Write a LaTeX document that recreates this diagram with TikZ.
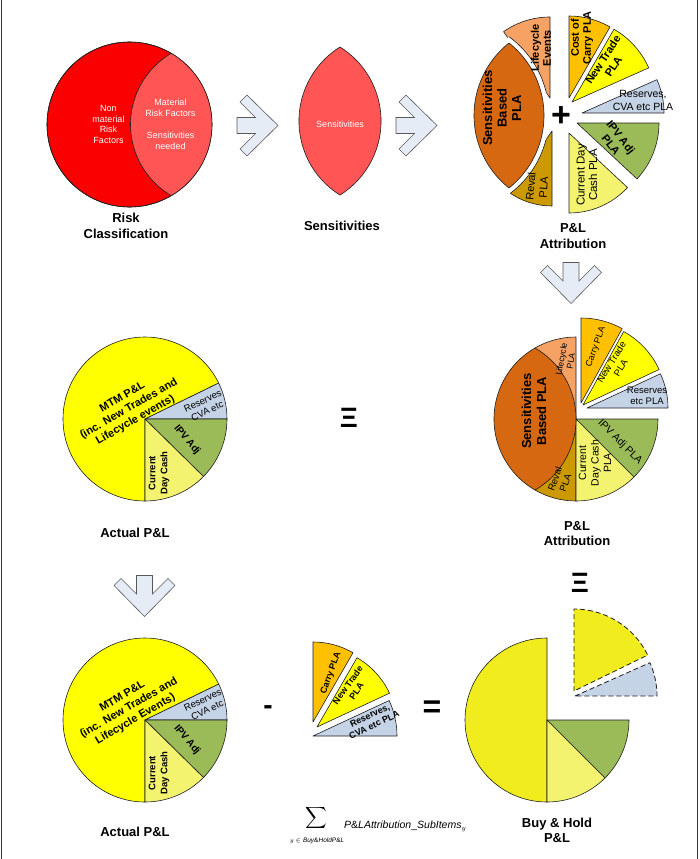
\documentclass[tikz,border=0pt]{standalone}
\usepackage{fontspec}
\setmainfont{Liberation Sans}
\newcommand\fsz[2]{\fontsize{#1}{#2}\selectfont}
\definecolor{rRed}{RGB}{250,0,0}
\definecolor{rLens}{RGB}{255,85,85}
\definecolor{dOrange}{RGB}{214,104,18}
\definecolor{lOrange}{RGB}{245,162,100}
\definecolor{cGold}{RGB}{255,192,0}
\definecolor{cYel}{RGB}{255,255,0}
\definecolor{cRes}{RGB}{197,211,230}
\definecolor{cIPV}{RGB}{155,187,89}
\definecolor{cCDC}{RGB}{243,243,112}
\definecolor{cReval}{RGB}{204,153,0}
\definecolor{cBH}{RGB}{240,236,30}
\definecolor{cArrow}{RGB}{230,236,246}
\definecolor{cLine}{RGB}{30,30,30}
\begin{document}
\begin{tikzpicture}[x=1pt,y=-1pt,
  piece/.style={draw=cLine,line width=0.6pt,line join=round},
  dpiece/.style={draw=cLine,line width=0.8pt,dash pattern=on 5pt off 3pt,line join=round},
  pt/.style={align=center,inner sep=0pt,text=black},
  lbl/.style={align=center,inner sep=0pt,text=black,font=\bfseries\fsz{13}{16}},
  wt/.style={align=center,inner sep=0pt,text=white},
  arrowsty/.style={fill=cArrow,draw=black!65,line width=0.6pt,line join=miter},
  chevR/.pic={\filldraw[arrowsty] (-10.5,-30.5) -- (20.5,0) -- (-10.5,30.5) -- (-17.5,23.5) -- (-2,8) -- (-20.5,8) -- (-20.5,-8) -- (-2,-8) -- (-17.5,-23.5) -- cycle;},
  chevD/.pic={\filldraw[arrowsty] (30.5,-10.5) -- (0,20.5) -- (-30.5,-10.5) -- (-23.5,-17.5) -- (-8,-2) -- (-8,-20.5) -- (8,-20.5) -- (8,-2) -- (23.5,-17.5) -- cycle;}
]
\useasboundingbox (0,0) rectangle (699,859);
\draw[black!80,line width=0.8pt] (1,0) -- (1,859);
\draw[black!80,line width=0.8pt] (697.5,0) -- (697.5,859);

% ---------- Risk classification ----------
\filldraw[fill=rRed,piece] (129.5,124.5) circle (82.5);
\begin{scope}
  \clip (129.5,124.5) circle (82.5);
  \filldraw[fill=rLens,piece] (213,124.5) circle (82.5);
\end{scope}
\draw[piece] (129.5,124.5) circle (82.5);
\node[wt,font=\fsz{9}{10.8}] (nonmat) at (108.5,124.5) {Non\\material\\Risk\\Factors};
\node[wt,font=\fsz{9}{11}] (mat) at (170.5,124.7) {Material\\Risk Factors\\[11pt]Sensitivities\\needed};
\node[lbl] (riskc) at (126,226) {Risk\\Classification};

% ---------- arrows ----------
\pic at (257.5,125.5) {chevR};
\pic at (416.5,125.5) {chevR};
\pic at (571,283) {chevD};
\pic at (144.5,596) {chevD};

% ---------- Sensitivities ----------
\filldraw[fill=rLens,piece] (340,47) arc[start angle=-58,end angle=58,radius=87.3] arc[start angle=122,end angle=238,radius=87.3] -- cycle;
\node[wt,font=\fsz{9}{11}] (senstxt) at (340,124) {Sensitivities};
\node[lbl] (senslbl) at (342,226) {Sensitivities};

% ---------- P&L attribution (top, exploded) ----------
\filldraw[fill=lOrange,piece] (550,98) -- ++(-125:81) arc[start angle=-125,end angle=-90,radius=81] -- cycle;
\filldraw[fill=cReval,piece] (552,131) -- ++(90:75) arc[start angle=90,end angle=125,radius=75] -- cycle;
\begin{scope}
  \clip (451.41,115.5) circle (97.6);
  \fill[white] (566.59,115.5) circle (97.6);
\end{scope}
\begin{scope}
  \clip (550,98) -- ++(-125:81) arc[start angle=-125,end angle=-90,radius=81] -- cycle;
  \clip (566.59,115.5) circle (97.6);
  \draw[piece] (451.41,115.5) circle (97.6);
\end{scope}
\begin{scope}
  \clip (552,131) -- ++(90:75) arc[start angle=90,end angle=125,radius=75] -- cycle;
  \clip (566.59,115.5) circle (97.6);
  \draw[piece] (451.41,115.5) circle (97.6);
\end{scope}
\filldraw[fill=dOrange,piece] (509,43) arc[start angle=-51.54,end angle=51.54,radius=92.59] arc[start angle=128.46,end angle=231.54,radius=92.59] -- cycle;
\filldraw[fill=cGold,piece] (569,98) -- ++(-90:82) arc[start angle=-90,end angle=-60,radius=82] -- cycle;
\filldraw[fill=cYel,piece] (572,102) -- ++(-60:84) arc[start angle=-60,end angle=-24,radius=84] -- cycle;
\filldraw[fill=cRes,piece] (582,113) -- ++(-24:82) arc[start angle=-24,end angle=0,radius=82] -- cycle;
\filldraw[fill=cIPV,piece] (577,123) -- ++(0:82) arc[start angle=0,end angle=43,radius=82] -- cycle;
\filldraw[fill=cCDC,piece] (569,133) -- ++(43:80) arc[start angle=43,end angle=90,radius=80] -- cycle;
\node[pt,font=\bfseries\fsz{13}{14.5},rotate=90] (sbp) at (502,108) {Sensitivities\\Based\\PLA};
\node[pt,font=\bfseries\fsz{11}{12},rotate=90] (lce) at (541,48) {Lifecycle\\Events};
\node[pt,font=\bfseries\fsz{11}{12},rotate=90] (coc) at (582,38) {Cost of\\Carry PLA};
\node[pt,font=\bfseries\fsz{11}{12.5},rotate=57] (ntp) at (608,63) {New Trade\\PLA};
\node[pt,font=\fsz{10.5}{13}] (rcp) at (643,100) {Reserves,\\CVA etc PLA};
\node[pt,font=\bfseries\fsz{11}{12.5},rotate=-52] (ipvp) at (616,141) {IPV Adj\\PLA};
\node[pt,font=\fsz{11.5}{12.5},rotate=90] (cdcp) at (587,175) {Current Day\\Cash PLA};
\node[pt,font=\fsz{11}{13},rotate=85] (rvp) at (537,187) {Reval\\PLA};
\node[pt,font=\bfseries\fsz{34}{34}] (plus) at (561,117) {+};
\node[lbl] (pla1) at (573,236.5) {P\&L\\Attribution};

% ---------- P&L attribution (middle) ----------
\filldraw[fill=lOrange,piece] (576,419) -- ++(-120:82) arc[start angle=-120,end angle=-90,radius=82] -- cycle;
\filldraw[fill=cReval,piece] (576,419) -- ++(90:82) arc[start angle=90,end angle=120,radius=82] -- cycle;
\filldraw[fill=cIPV,piece] (576,419) -- ++(0:82) arc[start angle=0,end angle=45,radius=82] -- cycle;
\filldraw[fill=cCDC,piece] (576,419) -- ++(45:82) arc[start angle=45,end angle=90,radius=82] -- cycle;
\filldraw[fill=dOrange,piece] (535,347.99) arc[start angle=240,end angle=120,radius=82] arc[start angle=60,end angle=-60,radius=82] -- cycle;
\filldraw[fill=cGold,piece] (581,403) -- ++(-90:85) arc[start angle=-90,end angle=-61,radius=85] -- cycle;
\filldraw[fill=cYel,piece] (583,405) -- ++(-61:84) arc[start angle=-61,end angle=-25,radius=84] -- cycle;
\filldraw[fill=cRes,piece] (587,408) -- ++(-25:81) arc[start angle=-25,end angle=0,radius=81] -- cycle;
\node[pt,font=\bfseries\fsz{13}{15},rotate=90] (sbp2) at (534,411) {Sensitivities\\Based PLA};
\node[pt,font=\fsz{8.5}{9.5},rotate=80] (lcp2) at (566,360) {Lifecycle\\PLA};
\node[pt,font=\fsz{9}{10},rotate=70] (cp2) at (596,347) {Carry PLA};
\node[pt,font=\fsz{9.5}{11},rotate=58] (ntp2) at (616,365) {New Trade\\PLA};
\node[pt,font=\fsz{9.5}{11.5}] (rp2) at (647,396) {Reserves\\etc PLA};
\node[pt,font=\fsz{10.5}{12},rotate=-45] (ipv2) at (620,442) {IPV Adj PLA};
\node[pt,font=\fsz{10.5}{12.5},rotate=90] (cdc2) at (595,463) {Current\\Day Cash\\PLA};
\node[pt,font=\fsz{9.5}{11},rotate=70] (rv2) at (560,481) {Reval\\PLA};
\node[lbl,font=\bfseries\fsz{13}{15}] (pla2) at (577,534) {P\&L\\Attribution};

\node[pt,font=\bfseries\fsz{28}{28}] (xi1) at (349,418) {Ξ};
\node[pt,font=\bfseries\fsz{28}{28}] (xi2) at (580,583) {Ξ};

% ---------- Actual P&L (top) ----------
\begin{scope}[shift={(145,419)}]
  \filldraw[fill=cYel,piece] (0,0) -- (90:82) arc[start angle=90,end angle=334,radius=82] -- cycle;
  \filldraw[fill=cRes,piece] (0,0) -- (-26:82) arc[start angle=-26,end angle=0,radius=82] -- cycle;
  \filldraw[fill=cIPV,piece] (0,0) -- (0:82) arc[start angle=0,end angle=44.5,radius=82] -- cycle;
  \filldraw[fill=cCDC,piece] (0,0) -- (44.5:82) arc[start angle=44.5,end angle=90,radius=82] -- cycle;
  \node[pt,font=\bfseries\fsz{11}{13},rotate=30] (mtm1) at (-16,-10) {MTM P\&L\\(inc. New Trades and\\Lifecycle events)};
  \node[pt,font=\fsz{9.5}{11},rotate=25] (res1) at (60,-13) {Reserves\\CVA etc};
  \node[pt,font=\bfseries\fsz{10}{12},rotate=-50] (ipv1) at (42,21) {IPV Adj};
  \node[pt,font=\bfseries\fsz{9.5}{12},rotate=90] (cdc1) at (14,54) {Current\\Day Cash};
\end{scope}
\node[lbl] (act1) at (135,533) {Actual P\&L};

% ---------- Actual P&L (bottom) ----------
\begin{scope}[shift={(145,720)}]
  \filldraw[fill=cYel,piece] (0,0) -- (90:82) arc[start angle=90,end angle=334,radius=82] -- cycle;
  \filldraw[fill=cRes,piece] (0,0) -- (-26:82) arc[start angle=-26,end angle=0,radius=82] -- cycle;
  \filldraw[fill=cIPV,piece] (0,0) -- (0:82) arc[start angle=0,end angle=44.5,radius=82] -- cycle;
  \filldraw[fill=cCDC,piece] (0,0) -- (44.5:82) arc[start angle=44.5,end angle=90,radius=82] -- cycle;
  \node[pt,font=\bfseries\fsz{11}{13},rotate=30] (mtm2) at (-16,-12) {MTM P\&L\\(inc. New Trades and\\Lifecycle Events)};
  \node[pt,font=\fsz{9.5}{11},rotate=25] (res2) at (60,-15) {Reserves\\CVA etc};
  \node[pt,font=\bfseries\fsz{10}{12},rotate=-50] (ipv2b) at (42,20) {IPV Adj};
  \node[pt,font=\bfseries\fsz{9.5}{12},rotate=90] (cdc2b) at (14,53) {Current\\Day Cash};
\end{scope}
\node[lbl] (act2) at (135,832) {Actual P\&L};

% ---------- operators and sub items ----------
\node[pt,font=\bfseries\fsz{28}{28}] (minus) at (268,710) {-};
\filldraw[fill=cGold,piece] (313,722) -- ++(-90:80) arc[start angle=-90,end angle=-60,radius=80] -- cycle;
\filldraw[fill=cYel,piece] (317,727) -- ++(-60:80) arc[start angle=-60,end angle=-25,radius=80] -- cycle;
\filldraw[fill=cRes,piece] (313,736) -- ++(-25:84) arc[start angle=-25,end angle=0,radius=84] -- cycle;
\node[pt,font=\bfseries\fsz{9}{10.5},rotate=70] (cpb) at (331,673) {Carry PLA};
\node[pt,font=\bfseries\fsz{9}{10.5},rotate=55] (ntb) at (352,688) {New Trade\\PLA};
\node[pt,font=\bfseries\fsz{9}{10.5},rotate=25] (rsb) at (372,720) {Reserves,\\CVA etc PLA};
\node[pt,font=\bfseries\fsz{32}{32}] (equals) at (432,709) {=};

\node[pt,scale=1.5] (sumsym) at (316,818) {$\displaystyle\sum$};
\node[pt,font=\fsz{6.5}{7}] (sumsub) at (317,841) {$y\in\mathit{Buy\&HoldP\&L}$};
\node[pt,anchor=base west,font=\fsz{10.5}{12}] (sumtxt) at (344,828) {$\mathit{P\&LAttribution\_SubItems}_y$};

% ---------- Buy & Hold ----------
\filldraw[fill=cBH,piece] (547,720) -- (547,802) arc[start angle=90,end angle=270,radius=82] -- cycle;
\filldraw[fill=cIPV,piece] (547,720) -- ++(0:82) arc[start angle=0,end angle=45,radius=82] -- cycle;
\filldraw[fill=cCDC,piece] (547,720) -- ++(45:82) arc[start angle=45,end angle=90,radius=82] -- cycle;
\filldraw[fill=cBH,dpiece] (574,691) -- ++(-90:82) arc[start angle=-90,end angle=-26,radius=82] -- cycle;
\filldraw[fill=cRes,dpiece] (575,696) -- ++(-24:82) arc[start angle=-24,end angle=0,radius=82] -- cycle;
\node[lbl,font=\bfseries\fsz{13}{15}] (bh) at (557,830.5) {Buy \& Hold\\P\&L};
\end{tikzpicture}
\end{document}
